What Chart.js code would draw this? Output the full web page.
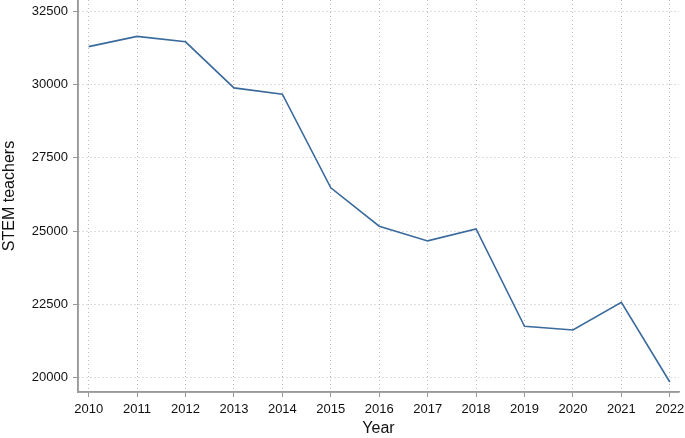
<!DOCTYPE html>
<html>
<head>
<meta charset="utf-8">
<script src="https://cdn.jsdelivr.net/npm/chart.js@4"></script>
<style>
  html, body { margin: 0; padding: 0; background: #fff; }
  #wrap { width: 685px; height: 438px; position: relative; }
</style>
</head>
<body>
<div id="wrap"><canvas id="myChart"></canvas></div>
<script>
const years = [2010, 2011, 2012, 2013, 2014, 2015, 2016, 2017, 2018, 2019, 2020, 2021, 2022];
const teachers = [31290, 31640, 31455, 29885, 29670, 26480, 25170, 24670, 25080, 21760, 21635, 22580, 19860];
const yTicks = [20000, 22500, 25000, 27500, 30000, 32500];

function createChart() {
    const ctx = document.getElementById('myChart').getContext('2d');
    new Chart(ctx, {
        type: 'line',
        data: {
            datasets: [{
                data: years.map((y, i) => ({ x: y, y: teachers[i] })),
                borderColor: '#3a6a9c',
                borderWidth: 1.6,
                pointRadius: 0,
                tension: 0
            }]
        },
        options: {
            responsive: true,
            maintainAspectRatio: false,
            animation: false,
            layout: { padding: { top: 0, right: 6, bottom: 0, left: 0 } },
            plugins: { legend: { display: false }, tooltip: { enabled: false } },
            scales: {
                x: {
                    type: 'linear',
                    min: 2009.78,
                    max: 2022.19,
                    afterBuildTicks: axis => { axis.ticks = years.map(v => ({ value: v })); },
                    afterFit: axis => {
                        axis.height = 46;
                        axis.paddingLeft = 0;
                        axis.paddingRight = 0;
                    },
                    ticks: {
                        color: '#111',
                        font: { family: 'Liberation Sans', size: 13 },
                        padding: 5,
                        maxRotation: 0,
                        callback: v => String(v)
                    },
                    grid: {
                        color: '#bdbdbd',
                        lineWidth: 1,
                        tickLength: 5,
                        tickColor: '#999'
                    },
                    border: { color: '#999', width: 1.5, dash: [1, 3] },
                    title: {
                        display: true,
                        text: 'Year',
                        color: '#111',
                        font: { family: 'Liberation Sans', size: 16 },
                        padding: { top: 3, bottom: 0 }
                    }
                },
                y: {
                    type: 'linear',
                    min: 19520,
                    max: 32880,
                    afterBuildTicks: axis => { axis.ticks = yTicks.map(v => ({ value: v })); },
                    afterFit: axis => {
                        axis.width = 78;
                        axis.paddingTop = 0;
                        axis.paddingBottom = 0;
                    },
                    ticks: {
                        color: '#111',
                        font: { family: 'Liberation Sans', size: 13 },
                        padding: 5,
                        callback: v => String(v)
                    },
                    grid: {
                        color: '#bdbdbd',
                        lineWidth: 1,
                        tickLength: 5,
                        tickColor: '#999'
                    },
                    border: { color: '#999', width: 1.5, dash: [1, 3] },
                    title: {
                        display: true,
                        text: 'STEM teachers',
                        color: '#111',
                        font: { family: 'Liberation Sans', size: 16 },
                        padding: { top: 0, bottom: 2 }
                    }
                }
            }
        },
        plugins: [{
            // solid axis lines (border dash would apply to grid), so draw them here
            id: 'axisLines',
            afterDraw(chart) {
                const { ctx, chartArea: a } = chart;
                ctx.save();
                ctx.strokeStyle = '#999';
                ctx.lineWidth = 1.5;
                ctx.setLineDash([]);
                ctx.beginPath();
                ctx.moveTo(a.left, a.top);
                ctx.lineTo(a.left, a.bottom);
                ctx.lineTo(a.right, a.bottom);
                ctx.stroke();
                ctx.restore();
            }
        }]
    });
}

createChart();
</script>
</body>
</html>
